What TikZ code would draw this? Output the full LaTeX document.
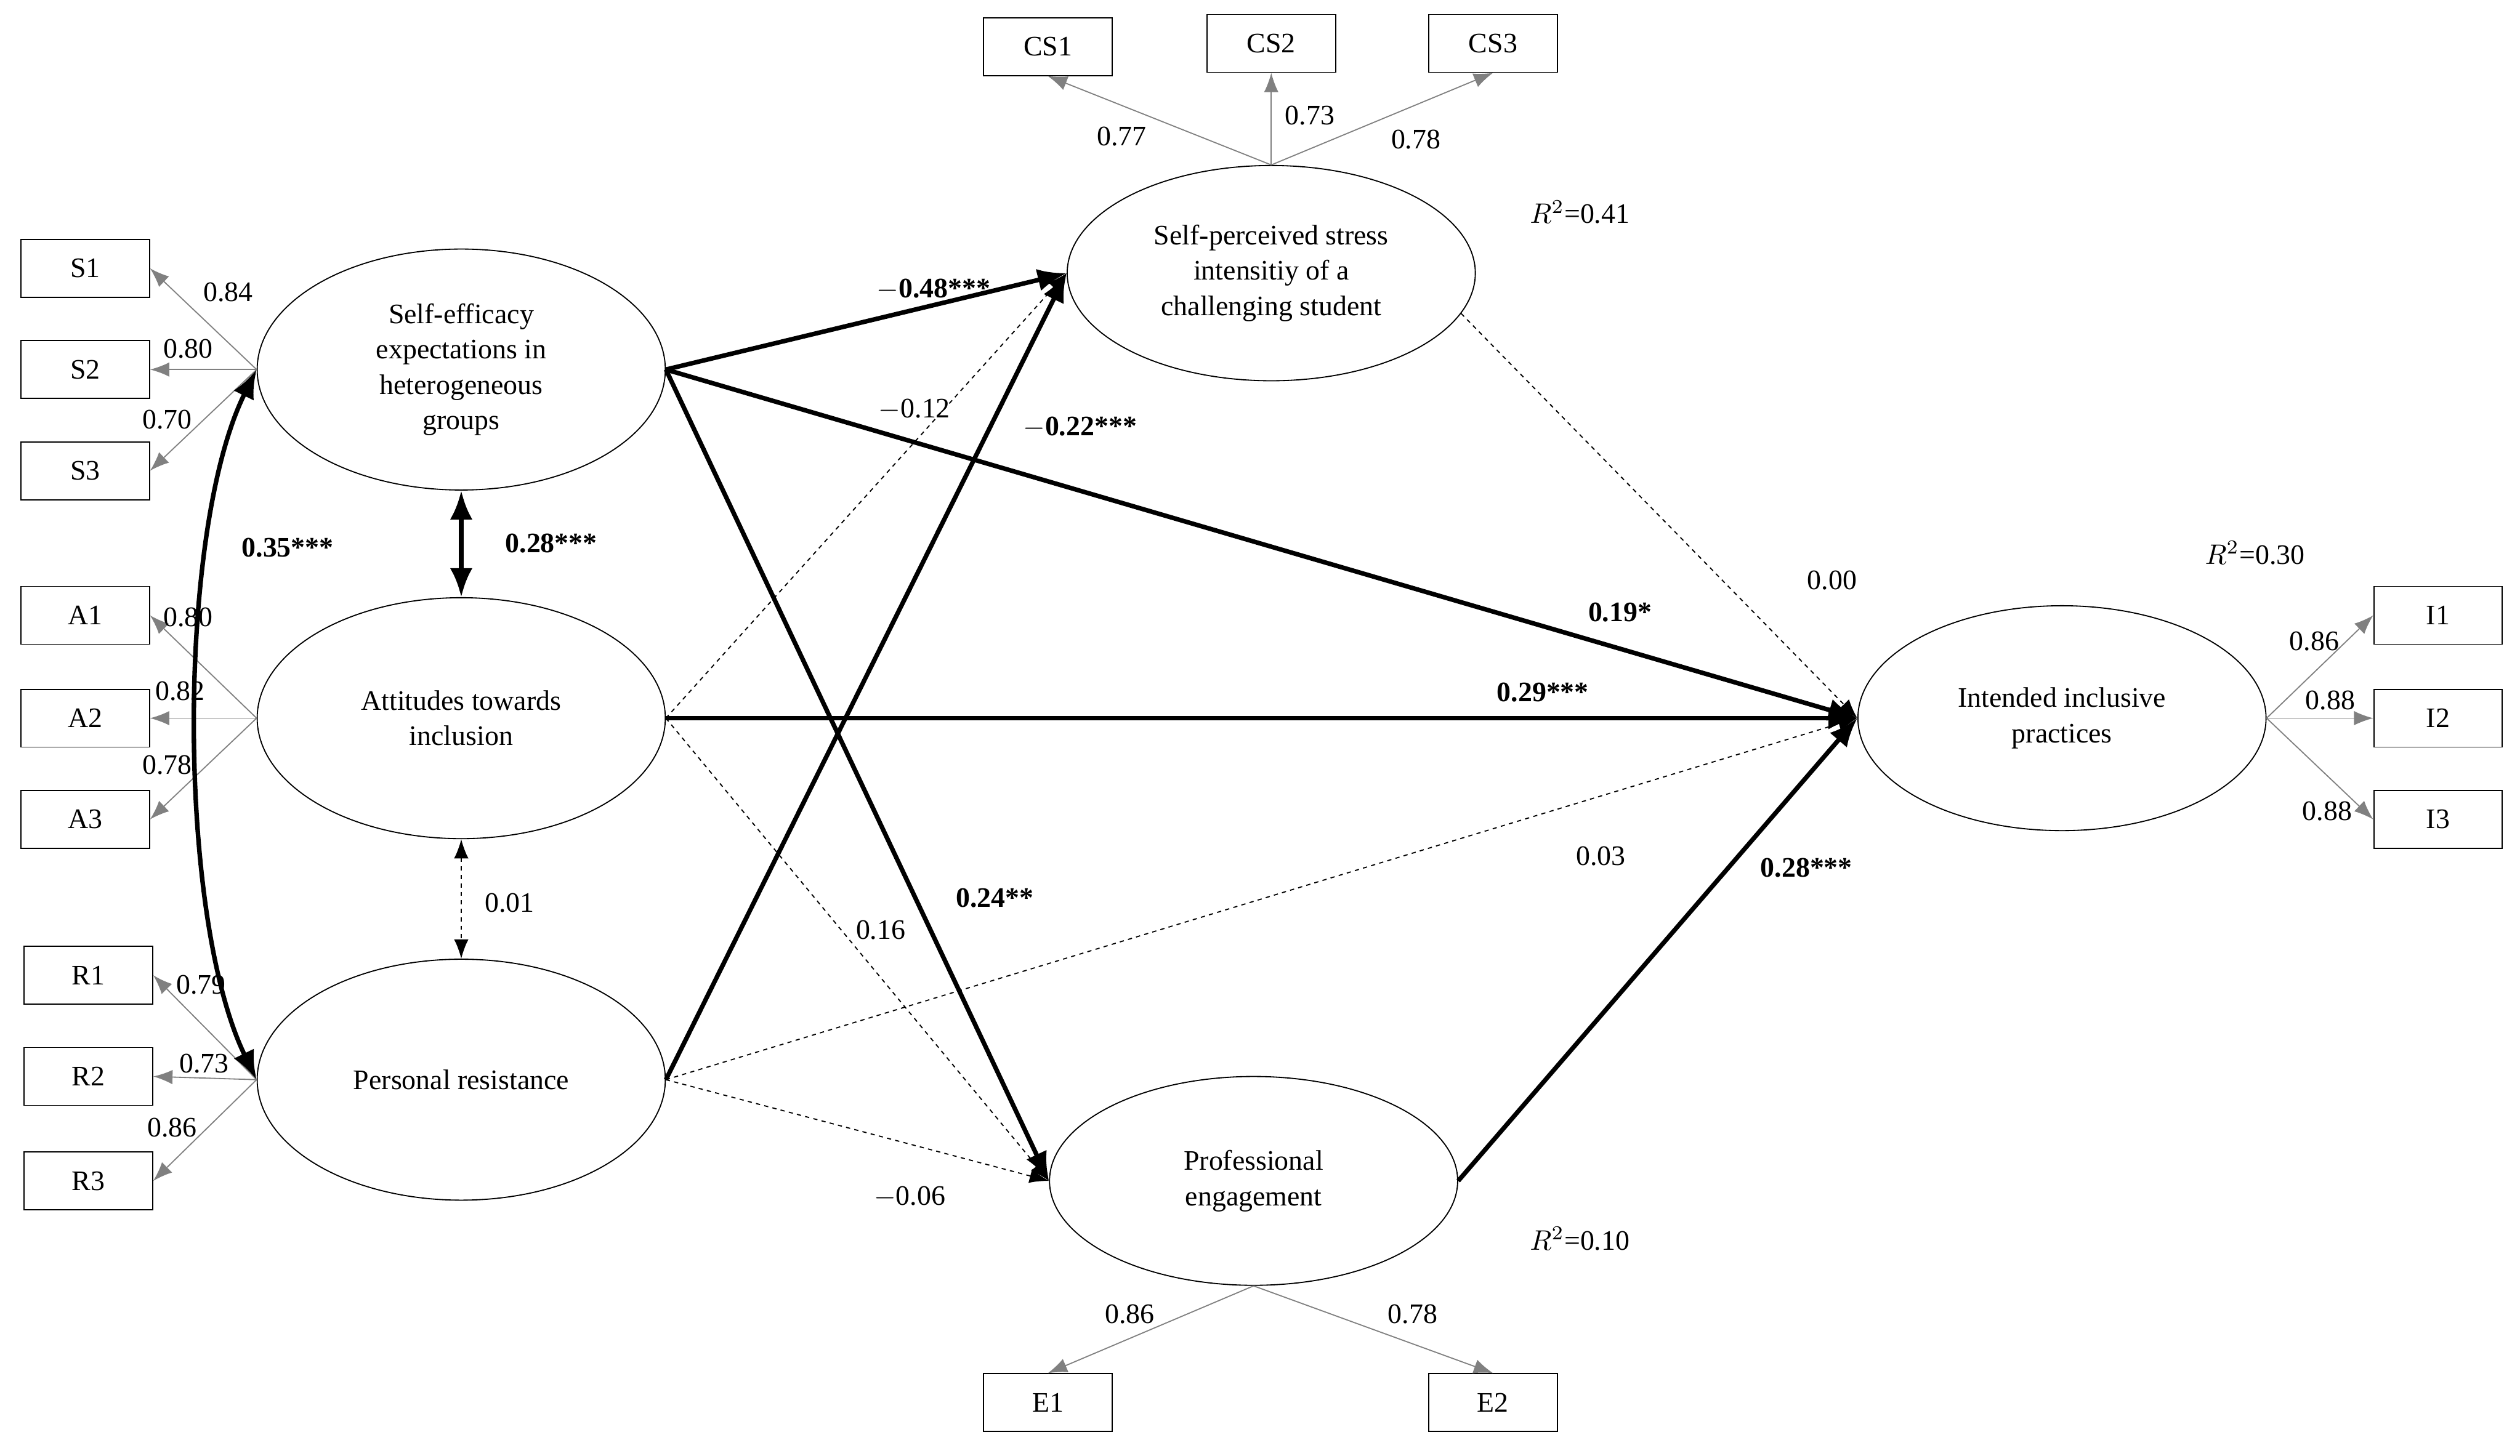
\documentclass[tikz,border=0pt]{standalone}
\usepackage{fontspec}
\setmainfont{Liberation Serif}
\usetikzlibrary{shapes.geometric,arrows.meta}
\tikzset{
  latent/.style={ellipse, draw, thin, minimum width=5.08cm, minimum height=3cm, align=center, inner sep=0pt, font=\fontsize{10}{12.5}\selectfont},
  item/.style={rectangle, draw, thin, minimum width=1.6cm, minimum height=0.72cm, font=\fontsize{10}{12}\selectfont},
  load/.style={draw=gray, thin, -{Latex[length=2.4mm,width=1.8mm]}},
  strong/.style={line width=1.6pt, -{Latex[length=3.6mm,width=2.8mm]}},
  weak/.style={thin, dashed, dash pattern=on 1.5pt off 1.5pt, -{Latex[length=2.4mm,width=1.8mm]}},
  lbl/.style={font=\fontsize{10}{12}\selectfont, inner sep=1pt},
  blbl/.style={font=\fontsize{10}{12}\selectfont\bfseries, inner sep=1pt}
}
\begin{document}
\begin{tikzpicture}[x=0.02cm, y=-0.02cm]
	\useasboundingbox (0,0) rectangle (1568,906);
	% latent variables
	\node at (287,230) [latent] (se) {Self-efficacy\\expectations in\\heterogeneous\\groups};
	\node at (287,447) [latent] (att) {Attitudes towards\\inclusion};
	\node at (287,672) [latent] (pr) {Personal resistance};
	\node at (791,170) [latent, minimum height=2.68cm] (st) {Self-perceived stress\\intensitiy of a\\challenging student};
	\node at (780,735) [latent, minimum height=2.6cm] (pe) {Professional\\engagement};
	\node at (1283,447) [latent, minimum height=2.8cm] (ip) {Intended inclusive\\practices};
	% indicators
	\node at (53,167) [item] (s1) {S1};
	\node at (53,230) [item] (s2) {S2};
	\node at (53,293) [item] (s3) {S3};
	\node at (53,383) [item] (a1) {A1};
	\node at (53,447) [item] (a2) {A2};
	\node at (53,510) [item] (a3) {A3};
	\node at (55,607) [item] (r1) {R1};
	\node at (55,670) [item] (r2) {R2};
	\node at (55,735) [item] (r3) {R3};
	\node at (652,29) [item] (cs1) {CS1};
	\node at (791,27) [item] (cs2) {CS2};
	\node at (929,27) [item] (cs3) {CS3};
	\node at (652,873) [item] (e1) {E1};
	\node at (929,873) [item] (e2) {E2};
	\node at (1517,383) [item] (i1) {I1};
	\node at (1517,447) [item] (i2) {I2};
	\node at (1517,510) [item] (i3) {I3};

	\draw [load] (se.west) -- (s1.east); \node at (142,182) [lbl] {0.84};
	\draw [load] (se.west) -- (s2.east); \node at (117,217) [lbl] {0.80};
	\draw [load] (se.west) -- (s3.east); \node at (104,261) [lbl] {0.70};
	\draw [load] (att.west) -- (a1.east); \node at (117,384) [lbl] {0.80};
	\draw [load] (att.west) -- (a2.east); \node at (112,430) [lbl] {0.82};
	\draw [load] (att.west) -- (a3.east); \node at (104,476) [lbl] {0.78};
	\draw [load] (pr.west) -- (r1.east); \node at (125,613) [lbl] {0.79};
	\draw [load] (pr.west) -- (r2.east); \node at (127,662) [lbl] {0.73};
	\draw [load] (pr.west) -- (r3.east); \node at (107,702) [lbl] {0.86};
	\draw [load] (st.north) -- (cs1.south); \node at (698,85) [lbl] {0.77};
	\draw [load] (st.north) -- (cs2.south); \node at (815,72) [lbl] {0.73};
	\draw [load] (st.north) -- (cs3.south); \node at (881,87) [lbl] {0.78};
	\draw [load] (pe.south) -- (e1.north); \node at (703,818) [lbl] {0.86};
	\draw [load] (pe.south) -- (e2.north); \node at (879,818) [lbl] {0.78};
	\draw [load] (ip.east) -- (i1.west); \node at (1440,399) [lbl] {0.86};
	\draw [load] (ip.east) -- (i2.west); \node at (1450,436) [lbl] {0.88};
	\draw [load] (ip.east) -- (i3.west); \node at (1448,505) [lbl] {0.88};

	% structural paths
	\draw [weak] (att.east) -- (st.west); \node at (569,255) [lbl] {$-$0.12};
	\draw [weak] (att.east) -- (pe.west); \node at (548,579) [lbl] {0.16};
	\draw [weak] (pr.east) -- (ip.west); \node at (996,533) [lbl] {0.03};
	\draw [weak] (pr.east) -- (pe.west); \node at (566,745) [lbl] {$-$0.06};
	\draw [weak] (st.-12) -- (ip.west); \node at (1140,361) [lbl] {0.00};
	\draw [strong] (se.east) -- (st.west); \node at (581,180) [blbl] {$-$0.48***};
	\draw [strong] (se.east) -- (ip.west); \node at (1008,381) [blbl] {0.19*};
	\draw [strong] (se.east) -- (pe.west); \node at (619,559) [blbl] {0.24**};
	\draw [strong] (att.east) -- (ip.west); \node at (960,431) [blbl] {0.29***};
	\draw [strong] (pr.east) -- (st.west); \node at (672,266) [blbl] {$-$0.22***};
	\draw [strong] (pe.east) -- (ip.west); \node at (1124,540) [blbl] {0.28***};

	% correlations
	\draw [strong, {Latex[length=3.6mm,width=2.8mm]}-{Latex[length=3.6mm,width=2.8mm]}] (se.south) -- (att.north);
	\node at (343,338) [blbl] {0.28***};
	\draw [weak, {Latex[length=2.4mm,width=1.8mm]}-{Latex[length=2.4mm,width=1.8mm]}] (att.south) -- (pr.north);
	\node at (317,562) [lbl] {0.01};
	\draw [strong, {Latex[length=3.6mm,width=2.8mm]}-{Latex[length=3.6mm,width=2.8mm]}] (se.west) .. controls (110,330) and (110,570) .. (pr.west);
	\node at (179,341) [blbl] {0.35***};

	% explained variance
	\node at (983,132) [lbl] {$R^2$=0.41};
	\node at (1403,344) [lbl] {$R^2$=0.30};
	\node at (983,771) [lbl] {$R^2$=0.10};
\end{tikzpicture}
\end{document}
